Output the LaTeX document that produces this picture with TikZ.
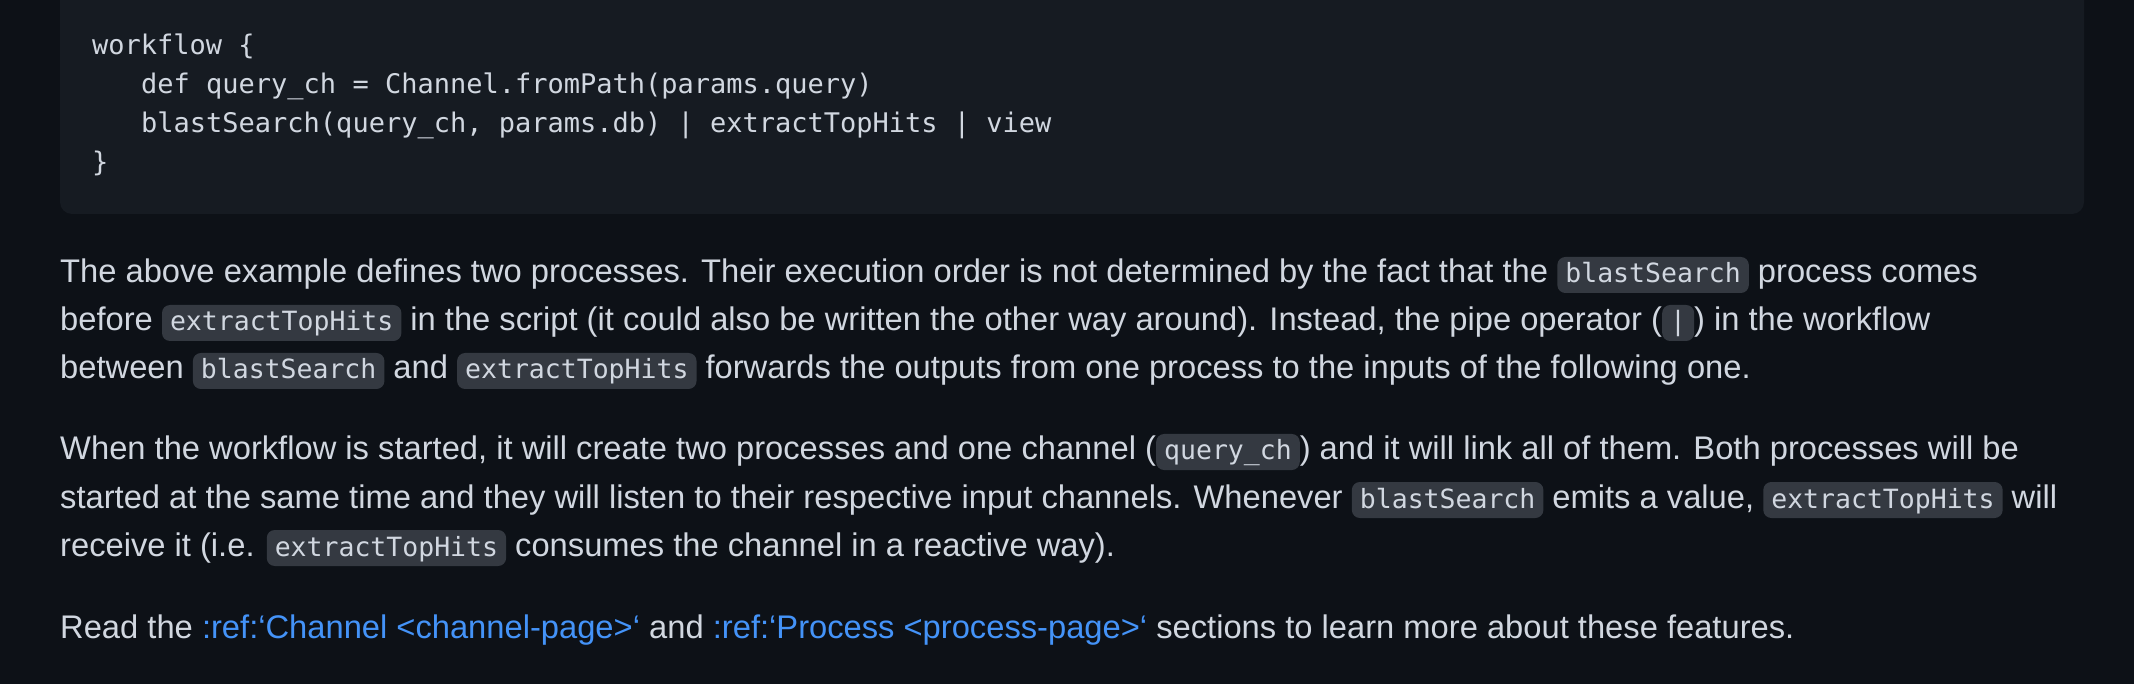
\documentclass[tikz,border=0pt]{standalone}
\usepackage{fontspec}
\setmainfont{Liberation Sans}
\setmonofont{DejaVu Sans Mono}
\definecolor{pagebg}{HTML}{0D1117}
\definecolor{blockbg}{HTML}{161B22}
\definecolor{codebg}{HTML}{343941}
\definecolor{txt}{HTML}{D1D7E0}
\definecolor{lnk}{HTML}{4493F8}
\newcommand\us{\symbol{95}}
\newcommand\bt{\symbol{96}}
\newcommand\bodyf{\fontsize{32.7}{38}\selectfont}
\newcommand\ic[1]{\tikz[baseline=(t.base)]\node[fill=codebg,rounded corners=8pt,inner xsep=8pt,inner ysep=0pt,text height=26pt,text depth=10pt,text=txt](t){\fontsize{26.5}{30}\ttfamily #1};}
\newcommand\lk[1]{\textcolor{lnk}{#1}}
\begin{document}
\begin{tikzpicture}[x=1pt,y=-1pt,
  codeline/.style={anchor=base west,inner sep=0pt,text=txt,font=\fontsize{27}{32}\ttfamily},
  bodyline/.style={anchor=base west,inner sep=0pt,text=txt,font=\bodyf}]
\fill[pagebg] (0,0) rectangle (2134,684);
\useasboundingbox (0,0) rectangle (2134,684);
\fill[blockbg,rounded corners=12pt] (60,-20) rectangle (2084,214);
\node[codeline] (c1) at (92,55) {workflow \{};
\node[codeline] (c2) at (141,94) {def query\us ch = Channel.fromPath(params.query)};
\node[codeline] (c3) at (141,133) {blastSearch(query\us ch, params.db) | extractTopHits | view};
\node[codeline] (c4) at (92,172) {\}};
\node[bodyline] (p1) at (60,283) {The above example defines two processes. Their execution order is not determined by the fact that the \ic{blastSearch} process comes};
\node[bodyline] (p2) at (60,331) {before \ic{extractTopHits} in the script (it could also be written the other way around). Instead, the pipe operator (\ic{|}) in the workflow};
\node[bodyline] (p3) at (60,379) {between \ic{blastSearch} and \ic{extractTopHits} forwards the outputs from one process to the inputs of the following one.};
\node[bodyline] (q1) at (60,460) {When the workflow is started, it will create two processes and one channel (\ic{query\us ch}) and it will link all of them. Both processes will be};
\node[bodyline] (q2) at (60,508) {started at the same time and they will listen to their respective input channels. Whenever \ic{blastSearch} emits a value, \ic{extractTopHits} will};
\node[bodyline] (q3) at (60,556) {receive it (i.e. \ic{extractTopHits} consumes the channel in a reactive way).};
\node[bodyline] (r1) at (60,638) {Read the \lk{:ref:\bt Channel <channel-page>\bt} and \lk{:ref:\bt Process <process-page>\bt} sections to learn more about these features.};
\end{tikzpicture}
\end{document}
